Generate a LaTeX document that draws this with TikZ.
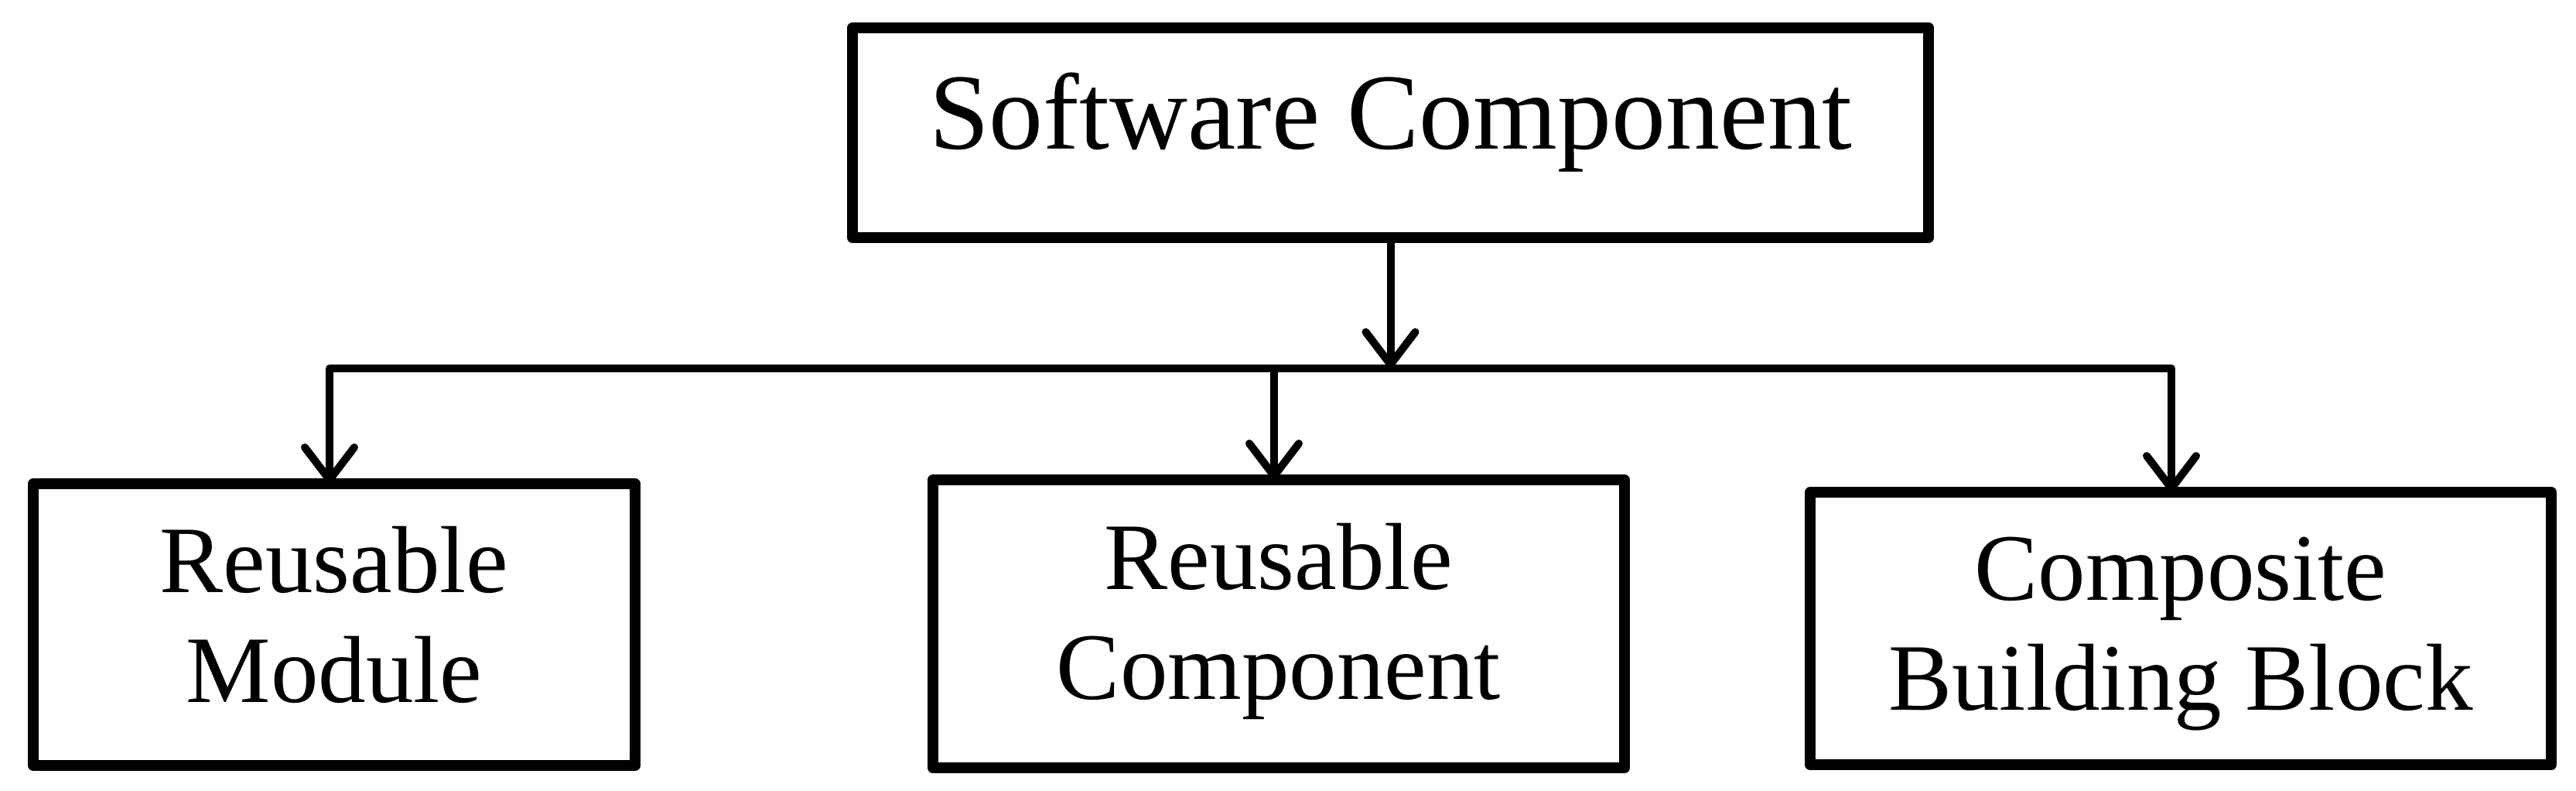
\documentclass[tikz,border=0pt]{standalone}
\usepackage{fontspec}
\setmainfont{Liberation Serif}
\usetikzlibrary{arrows.meta}
\begin{document}
\begin{tikzpicture}[
  box/.style={draw=black, line width=0.14cm, line join=round, rectangle, inner sep=0pt, outer sep=0pt},
  toptext/.style={font=\fontsize{39.8pt}{45pt}\selectfont, inner sep=0pt, anchor=base},
  lowtext/.style={font=\fontsize{35pt}{40.4pt}\selectfont, inner sep=0pt, align=center, anchor=base},
  conn/.style={draw=black, line width=0.10cm, line join=round, line cap=round},
  tip/.tip={Straight Barb[length=0.42cm, width=0.64cm, line cap=round, line join=round]}
]
\useasboundingbox[fill=white] (0,0) rectangle (33.30,-10.21);
% boxes
\node[box, minimum width=13.91cm, minimum height=2.71cm] (top) at (17.975,-1.715) {};
\node[box, minimum width=7.78cm, minimum height=3.64cm] (rm) at (4.32,-8.07) {};
\node[box, minimum width=8.94cm, minimum height=3.72cm] (rc) at (16.53,-8.06) {};
\node[box, minimum width=9.58cm, minimum height=3.52cm] (cbb) at (28.19,-8.12) {};
% texts (base anchor = baseline of the last line)
\node[toptext] (toplbl) at (17.975,-1.92) {Software Component};
\node[lowtext] (rmlbl) at (4.32,-9.07) {Reusable\\Module};
\node[lowtext] (rclbl) at (16.53,-9.03) {Reusable\\Component};
\node[lowtext] (cbblbl) at (28.19,-9.17) {Composite\\Building Block};
% connector bar
\coordinate (hl) at (4.26,-4.76);
\coordinate (hm) at (16.47,-4.76);
\coordinate (hr) at (28.07,-4.76);
\draw[conn, -tip] (top.south) -- (top.south |- hl);
\draw[conn, tip-tip] (rm.north -| hl) -- (hl) -- (hr) -- (cbb.north -| hr);
\draw[conn, -tip] (hm) -- (rc.north -| hm);
\end{tikzpicture}
\end{document}
